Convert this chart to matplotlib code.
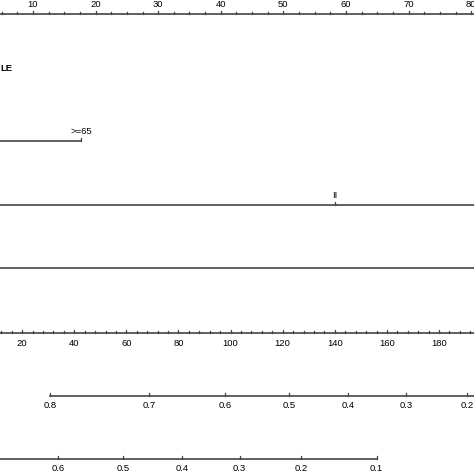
import numpy as np
import matplotlib
matplotlib.use("Agg")
import matplotlib.pyplot as plt

plt.rcParams['font.family'] = ['Liberation Sans', 'DejaVu Sans']

# Data
points_ticks = [10, 20, 30, 40, 50, 60, 70, 80]
age_points = 17.7          # ">=65"
stage_points = 58.2        # "II"
total_ticks = [20, 40, 60, 80, 100, 120, 140, 160, 180]
prob1_ticks = [0.8, 0.7, 0.6, 0.5, 0.4, 0.3, 0.2]
prob2_ticks = [0.6, 0.5, 0.4, 0.3, 0.2, 0.1]
# survival model: total = t0 + s * log(-log(S))
prob1_t0, prob2_t0, slope = 152.3, 88.4, 81.1

def tot2pts(t):
    return (2.606 * np.asarray(t) - 0.4) / 6.26

def prob_tot(p, t0):
    return t0 + slope * np.log(-np.log(np.asarray(p)))

fig = plt.figure(figsize=(4.74, 4.74), dpi=100)
ax = fig.add_axes([0, 0, 1, 1])
ax.set_xlim(4.73, 80.45)
ax.set_ylim(474, 0)
ax.axis('off')
lw = 1.2
col = '#444444'
fs = 6.8

# top points axis
y = 14
ax.plot([4.73, 80.45], [y, y], color=col, lw=lw)
for v in np.arange(2.5, 82, 2.5):
    major = abs(v % 10) < 1e-9
    ax.plot([v, v], [y, y - (3 if major else 2)], color=col, lw=0.9)
for v in points_ticks:
    ax.text(v, y - 5.5, str(v), ha='center', va='bottom', fontsize=fs)

ax.text(4.73, 68, 'LE', ha='left', va='center', fontsize=fs, fontweight='bold')

# age row
y = 141
ax.plot([4.73, age_points], [y, y], color=col, lw=lw)
ax.plot([age_points, age_points], [y, y - 3], color=col, lw=0.9)
ax.text(age_points, y - 5.5, '>=65', ha='center', va='bottom', fontsize=fs)

# stage row
y = 205
ax.plot([4.73, 80.45], [y, y], color=col, lw=lw)
ax.plot([stage_points, stage_points], [y, y - 3], color=col, lw=0.9)
ax.text(stage_points, y - 5.5, 'II', ha='center', va='bottom', fontsize=fs)

# another row
y = 268
ax.plot([4.73, 80.45], [y, y], color=col, lw=lw)

# total points axis
y = 333
ax.plot([4.73, 80.45], [y, y], color=col, lw=lw)
for t in np.arange(0, 200, 4):
    x = tot2pts(t)
    if 4.73 <= x <= 80.45:
        major = t % 20 == 0
        ax.plot([x, x], [y, y - (3 if major else 2)], color=col, lw=0.9)
for t in total_ticks:
    ax.text(tot2pts(t), y + 5.5, str(t), ha='center', va='top', fontsize=fs)

# probability axis 1
y = 396
xs = tot2pts(prob_tot(prob1_ticks, prob1_t0))
ax.plot([xs[0], 80.45], [y, y], color=col, lw=lw)
for x, p in zip(xs, prob1_ticks):
    ax.plot([x, x], [y, y - 3], color=col, lw=0.9)
    ax.text(x, y + 5.5, f'{p:.1f}', ha='center', va='top', fontsize=fs)

# probability axis 2
y = 459
xs = tot2pts(prob_tot(prob2_ticks, prob2_t0))
ax.plot([4.73, xs[-1]], [y, y], color=col, lw=lw)
for x, p in zip(xs, prob2_ticks):
    ax.plot([x, x], [y, y - 3], color=col, lw=0.9)
    ax.text(x, y + 5, f'{p:.1f}', ha='center', va='top', fontsize=fs)

fig.savefig('out.png', dpi=100)
